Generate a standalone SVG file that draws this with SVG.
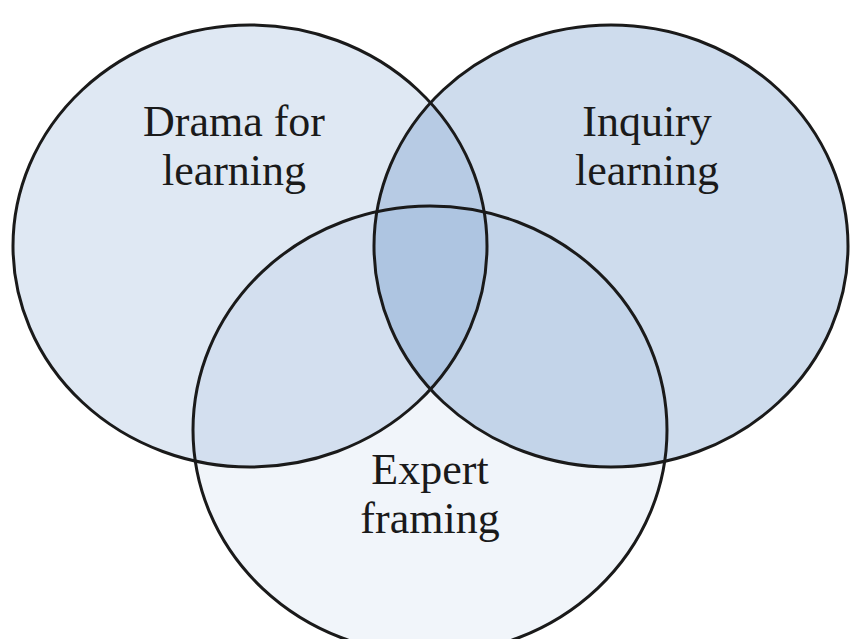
<svg xmlns="http://www.w3.org/2000/svg" width="855" height="639" viewBox="0 0 855 639">
<style>
.fill{fill:#4f81bd;stroke:none}
.outline{fill:none;stroke:#1a1a1a;stroke-width:3}
.lbl{font-family:"Liberation Serif","Times New Roman",serif;font-size:44px;fill:#1a1a1a;text-anchor:middle}
</style>
<rect width="855" height="639" fill="#ffffff"/>
<g id="drama">
<ellipse class="fill" cx="250" cy="246" rx="237" ry="221" fill-opacity="0.18"/>
</g>
<g id="inquiry">
<ellipse class="fill" cx="611" cy="246" rx="237" ry="221" fill-opacity="0.28"/>
</g>
<g id="expert">
<ellipse class="fill" cx="430" cy="430" rx="237" ry="224" fill-opacity="0.08"/>
</g>
<g id="outlines">
<ellipse class="outline" cx="250" cy="246" rx="237" ry="221"/>
<ellipse class="outline" cx="611" cy="246" rx="237" ry="221"/>
<ellipse class="outline" cx="430" cy="430" rx="237" ry="224"/>
</g>
<g id="labels">
<text class="lbl" x="234" y="136">Drama for</text>
<text class="lbl" x="234" y="185">learning</text>
<text class="lbl" x="647" y="136">Inquiry</text>
<text class="lbl" x="647" y="185">learning</text>
<text class="lbl" x="430" y="484">Expert</text>
<text class="lbl" x="430" y="533">framing</text>
</g>
</svg>
